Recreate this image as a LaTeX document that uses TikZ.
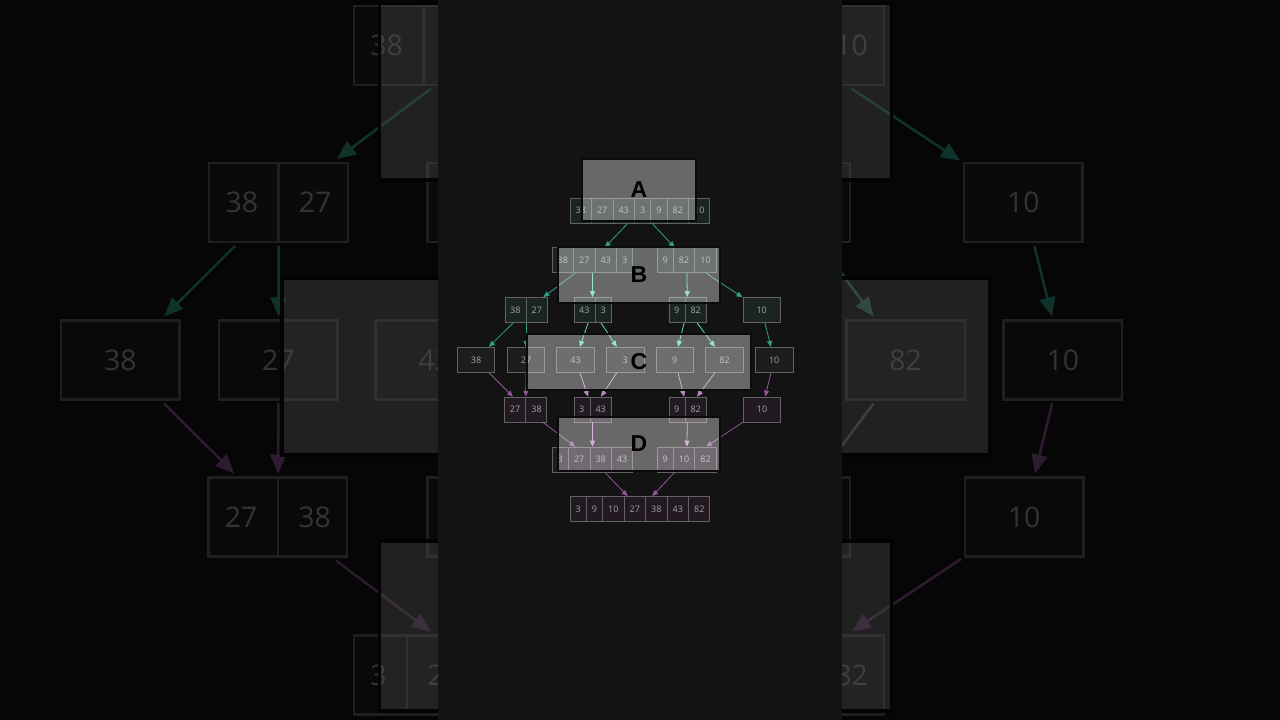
\documentclass[tikz,border=0pt]{standalone}
\usepackage{fontspec}
\usetikzlibrary{shapes.multipart,arrows.meta}
\newfontfamily\cellfont{Open Sans}
\newfontfamily\stagefont{Liberation Sans}

\definecolor{panelbg}{HTML}{131313}
\definecolor{cellline}{HTML}{626262}
\definecolor{celltext}{HTML}{A4A4A4}
\definecolor{splitfill}{HTML}{1A2421}
\definecolor{leaffill}{HTML}{1D1D1D}
\definecolor{mergefill}{HTML}{221922}
\definecolor{splitcol}{HTML}{31A088}
\definecolor{splithot}{HTML}{5DD6B8}
\definecolor{mergecol}{HTML}{94569A}
\definecolor{mergehot}{HTML}{C188C7}
\definecolor{stageline}{HTML}{0B0B0B}

\def\sc{1}

% the whole sort, drawn once small and once large behind
\newcommand\mergetree{%
  % splitting
  \node[splitrow=7] (a) at (640,210.5) {38\nodepart{two}27\nodepart{three}43\nodepart{four}3\nodepart{five}9\nodepart{six}82\nodepart{seven}10};
  \node[splitrow=4] (b1) at (592.5,260.3) {38\nodepart{two}27\nodepart{three}43\nodepart{four}3}
    edge [splitin] (a);
  \node[splitrow=3] (b2) at (686.7,260.3) {9\nodepart{two}82\nodepart{three}10}
    edge [splitin] (a);
  \node[splitrow=2] (c1) at (526,310) {38\nodepart{two}27}
    edge [splitin] (b1);
  \node[splitrow=2] (c2) at (592.5,310) {43\nodepart{two}3}
    edge [splitglow] (b1);
  \node[splitrow=2] (c3) at (687.5,310) {9\nodepart{two}82}
    edge [splitglow] (b2);
  \node[leaf,fill=splitfill] (c4) at (761.7,310) {10}
    edge [splitin] (b2);
  % single values
  \node[leaf] (d1) at (476,359.8) {38} edge [splitin] (c1);
  \node[leaf] (d2) at (526,359.8) {27} edge [splitin] (c1);
  \node[leaf] (d3) at (575.5,359.8) {43} edge [splitglow] (c2);
  \node[leaf] (d4) at (625.3,359.8) {3} edge [splitglow] (c2);
  \node[leaf] (d5) at (674.7,359.8) {9} edge [splitglow] (c3);
  \node[leaf] (d6) at (724.5,359.8) {82} edge [splitglow] (c3);
  \node[leaf] (d7) at (774.2,359.8) {10} edge [splitin] (c4);
  % merging
  \node[mergerow=2] (e1) at (525.8,409.5) {27\nodepart{two}38}
    edge [mergein] (d1) edge [mergein] (d2);
  \node[mergerow=2] (e2) at (592.5,409.5) {3\nodepart{two}43}
    edge [mergeglow] (d3) edge [mergeglow] (d4);
  \node[mergerow=2] (e3) at (687.5,409.5) {9\nodepart{two}82}
    edge [mergeglow] (d5) edge [mergeglow] (d6);
  \node[leaf,fill=mergefill] (e4) at (762,409.5) {10}
    edge [mergein] (d7);
  \node[mergerow=4] (f1) at (592.5,459.5) {3\nodepart{two}27\nodepart{three}38\nodepart{four}43}
    edge [mergein] (e1) edge [mergeglow] (e2);
  \node[mergerow=3] (f2) at (686.7,459.5) {9\nodepart{two}10\nodepart{three}82}
    edge [mergeglow] (e3) edge [mergein] (e4);
  \node[mergerow=7] (g) at (640,509) {3\nodepart{two}9\nodepart{three}10\nodepart{four}27\nodepart{five}38\nodepart{six}43\nodepart{seven}82}
    edge [mergein] (f1) edge [mergein] (f2);
  % stages
  \node[stage,minimum width=114pt,minimum height=62pt] (stA) at (639,190) {A};
  \node[stage,minimum width=162pt,minimum height=56pt] (stB) at (639,275) {B};
  \node[stage,minimum width=224pt,minimum height=56pt] (stC) at (639,362) {C};
  \node[stage,minimum width=162pt,minimum height=54pt] (stD) at (639,444) {D};
}

\begin{document}
\begin{tikzpicture}[x=1pt,y=-1pt]
  \tikzstyle{cell}=[draw=cellline,line width=\sc*0.8pt,text=celltext,
    font=\cellfont\fontsize{9pt}{10pt}\selectfont,
    inner xsep=5.2pt,inner ysep=0pt,minimum height=25pt]
  \tikzstyle{fields}=[cell,rectangle split,rectangle split horizontal,
    rectangle split parts=#1]
  \tikzstyle{splitrow}=[fields=#1,fill=splitfill]
  \tikzstyle{mergerow}=[fields=#1,fill=mergefill]
  \tikzstyle{leaf}=[cell,minimum width=37.5pt,fill=leaffill]
  \tikzstyle{splitin}=[draw=splitcol,line width=\sc*0.8pt,
    {Triangle[length=6pt,width=5pt,scale=\sc]}-]
  \tikzstyle{splitglow}=[splitin,draw=splithot]
  \tikzstyle{mergein}=[draw=mergecol,line width=\sc*0.8pt,
    {Triangle[length=6pt,width=5pt,scale=\sc]}-]
  \tikzstyle{mergeglow}=[mergein,draw=mergehot]
  \tikzstyle{stage}=[draw=stageline,line width=\sc*1.2pt,fill=white,
    fill opacity=0.36,text opacity=1,text=black,inner sep=0pt,
    font=\stagefont\bfseries\fontsize{23pt}{23pt}\selectfont]

  \useasboundingbox (0,0) rectangle (1280,720);
  \clip (0,0) rectangle (1280,720);
  \fill[panelbg] (0,0) rectangle (1280,720);
  % enlarged copy behind
  \begin{scope}[shift={(-1383.7,-777.1)},scale=3.16,transform shape]
    \def\sc{3.16}
    \mergetree
  \end{scope}
  \fill[black,opacity=0.68] (0,0) rectangle (1280,720);
  % the short's panel
  \fill[panelbg] (438,0) rectangle (842,720);
  \mergetree
\end{tikzpicture}
\end{document}
